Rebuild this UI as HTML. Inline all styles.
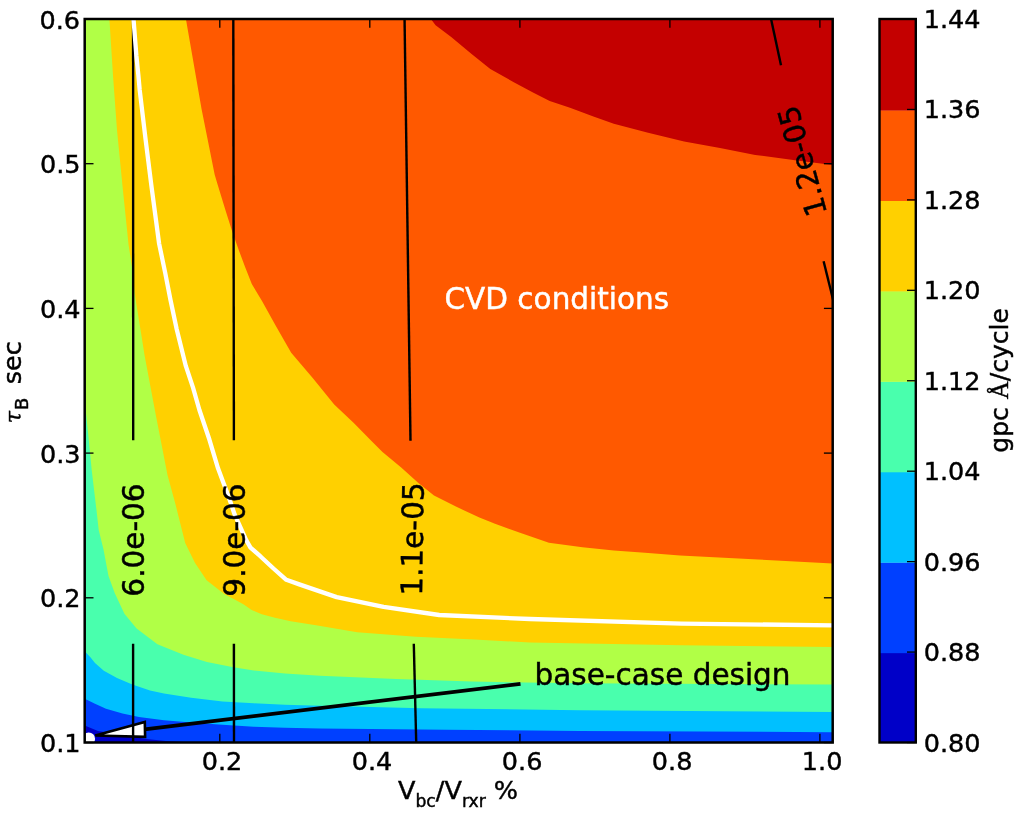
<!DOCTYPE html><html><head><meta charset="utf-8"><title>gpc contour</title><style>html,body{margin:0;padding:0;background:#fff;}svg{display:block;}</style></head><body>
<svg width="1024" height="819" viewBox="0 0 1024 819" font-family="'DejaVu Sans','Liberation Sans',sans-serif">
<rect x="0" y="0" width="1024" height="819" fill="#fff"/>
<defs><clipPath id="ax"><rect x="84.7" y="19.0" width="748.0" height="723.5"/></clipPath></defs>
<g clip-path="url(#ax)">
<rect x="84.7" y="19.0" width="748.0" height="723.5" fill="#0000c8"/>
<polygon fill="#0040ff" points="79.7,725.6 84.7,725.6 98.0,730.9 120.0,734.6 146.1,739.1 166.0,740.9 183.6,742.0 195.0,743.0 837.7,747.5 837.7,14.0 79.7,14.0"/>
<polygon fill="#00c0ff" points="79.7,698.8 84.7,698.8 95.0,703.7 106.0,708.7 122.5,713.6 139.0,716.9 164.0,720.3 191.2,722.6 222.5,724.8 253.8,726.7 285.0,727.8 320.0,728.6 447.0,729.8 580.0,730.9 832.7,732.2 837.7,732.2 837.7,14.0 79.7,14.0"/>
<polygon fill="#49ffad" points="79.7,651.3 84.7,651.3 90.6,657.6 95.0,663.1 103.8,670.8 117.0,677.9 132.3,684.5 150.0,690.5 164.0,693.6 191.2,697.8 222.5,701.4 253.8,703.3 285.0,704.8 320.0,705.7 421.5,708.2 580.0,710.3 832.7,711.9 837.7,711.9 837.7,14.0 79.7,14.0"/>
<polygon fill="#b1ff46" points="79.7,406.0 84.7,406.0 85.6,409.5 88.8,440.0 91.7,470.0 94.3,492.0 96.5,510.3 98.7,530.0 103.5,549.4 108.5,575.9 114.7,593.0 124.4,613.7 136.6,628.4 157.4,644.2 183.4,654.8 206.9,661.9 233.4,667.3 253.8,670.5 285.0,673.6 320.0,675.7 396.2,679.0 472.3,681.6 580.0,683.3 832.7,684.5 837.7,684.5 837.7,14.0 79.7,14.0"/>
<polygon fill="#ffd000" points="109.4,14.0 109.4,19.0 113.1,77.0 117.0,130.0 122.9,190.0 128.6,245.0 133.1,274.3 134.6,293.3 141.0,332.8 144.5,355.0 155.5,413.6 167.5,475.0 175.4,504.0 185.2,543.1 194.9,562.7 206.6,580.2 224.2,593.9 236.0,600.2 243.8,604.5 251.6,609.9 261.8,614.2 275.0,617.7 290.7,621.2 316.0,625.2 357.2,632.3 415.8,636.7 474.4,639.6 530.0,642.5 681.4,645.3 832.7,647.1 837.7,647.1 837.7,14.0"/>
<polygon fill="#ff5900" points="185.9,14.0 185.9,19.0 193.7,63.8 201.5,108.7 209.3,147.7 214.7,174.8 217.6,184.5 225.4,209.9 232.2,231.4 239.1,250.9 244.9,266.6 251.8,284.1 262.0,301.0 275.6,325.4 291.2,352.7 312.7,378.1 334.2,404.5 353.8,423.0 370.0,439.4 382.5,451.9 401.2,467.5 418.4,483.1 434.0,495.6 455.9,506.6 479.4,517.5 495.0,523.8 520.0,532.8 548.9,542.7 582.5,547.3 613.8,550.5 645.0,552.8 680.0,555.6 758.1,559.5 832.7,563.5 837.7,563.5 837.7,14.0"/>
<polygon fill="#c40000" points="430.9,14.0 430.9,19.0 435.6,25.2 451.2,36.9 471.6,54.1 490.3,68.9 513.8,82.2 532.5,92.3 549.7,100.9 570.0,107.8 593.4,116.4 613.8,123.8 648.1,132.8 684.1,141.4 720.0,148.1 755.2,154.9 795.0,160.2 832.7,165.0 837.7,165.0 837.7,14.0"/>
<circle cx="88.7" cy="738.8" r="6.4" fill="#fff"/>
<line x1="144.5" y1="729.4" x2="520.5" y2="683.9" stroke="#000" stroke-width="3.8"/>
<polygon points="95.3,735.5 144.8,722.0 145.1,736.8" fill="#fff" stroke="#000" stroke-width="2.6" stroke-linejoin="miter"/>
<g stroke="#000" stroke-width="2.4" fill="none">
<polyline points="133.1,15.0 133.2,440.3"/>
<polyline points="133.1,643.8 133.1,746.0"/>
<polyline points="233.3,15.0 233.9,440.3"/>
<polyline points="233.9,643.8 234.0,746.0"/>
<polyline points="404.5,15.0 410.5,440.8"/>
<polyline points="413.8,643.8 416.3,746.0"/>
<polyline points="770.2,15.0 781.0,65.3"/>
<polyline points="823.6,261.3 834.4,305.0"/>
</g>
<polyline fill="none" stroke="#fff" stroke-width="4.3" stroke-linejoin="round" points="133.4,10.0 133.5,19.0 136.4,56.0 138.4,75.6 139.7,90.0 145.5,138.8 151.3,185.0 159.1,243.6 165.2,272.9 170.5,300.0 176.7,329.3 185.8,365.9 193.1,387.9 199.4,410.0 209.3,439.3 218.1,468.6 229.0,497.8 234.7,514.7 240.8,528.1 246.3,540.3 250.5,547.6 260.3,556.2 273.5,568.5 286.3,579.8 300.0,584.6 336.7,597.1 383.6,606.8 439.2,615.0 530.0,619.0 681.4,623.6 832.7,625.3 840.0,625.4"/>
</g>
<g font-size="29.5" fill="#000" stroke="#000" stroke-width="0.45">
<text transform="translate(144.4,540) rotate(-90)" text-anchor="middle">6.0e-06</text>
<text transform="translate(244.9,540) rotate(-90)" text-anchor="middle">9.0e-06</text>
<text transform="translate(422.8,539.2) rotate(-89.1)" text-anchor="middle">1.1e-05</text>
<text transform="translate(812.3,158.3) rotate(-105.4)" text-anchor="middle">1.2e-05</text>
</g>
<text x="444.5" y="308.5" font-size="29.5" fill="#fff" stroke="#fff" stroke-width="0.45">CVD conditions</text>
<text x="534.5" y="685.0" font-size="29.5" fill="#000" stroke="#000" stroke-width="0.45">base-case design</text>
<rect x="84.7" y="19.0" width="748.0" height="723.5" fill="none" stroke="#000" stroke-width="2.5"/>
<g stroke="#000" stroke-width="1.3">
<line x1="219.8" y1="742.5" x2="219.8" y2="733.7"/>
<line x1="219.8" y1="19.0" x2="219.8" y2="27.8"/>
<line x1="369.8" y1="742.5" x2="369.8" y2="733.7"/>
<line x1="369.8" y1="19.0" x2="369.8" y2="27.8"/>
<line x1="519.9" y1="742.5" x2="519.9" y2="733.7"/>
<line x1="519.9" y1="19.0" x2="519.9" y2="27.8"/>
<line x1="669.9" y1="742.5" x2="669.9" y2="733.7"/>
<line x1="669.9" y1="19.0" x2="669.9" y2="27.8"/>
<line x1="819.9" y1="742.5" x2="819.9" y2="733.7"/>
<line x1="819.9" y1="19.0" x2="819.9" y2="27.8"/>
<line x1="84.7" y1="742.5" x2="93.5" y2="742.5"/>
<line x1="832.7" y1="742.5" x2="823.9" y2="742.5"/>
<line x1="84.7" y1="597.8" x2="93.5" y2="597.8"/>
<line x1="832.7" y1="597.8" x2="823.9" y2="597.8"/>
<line x1="84.7" y1="453.1" x2="93.5" y2="453.1"/>
<line x1="832.7" y1="453.1" x2="823.9" y2="453.1"/>
<line x1="84.7" y1="308.4" x2="93.5" y2="308.4"/>
<line x1="832.7" y1="308.4" x2="823.9" y2="308.4"/>
<line x1="84.7" y1="163.7" x2="93.5" y2="163.7"/>
<line x1="832.7" y1="163.7" x2="823.9" y2="163.7"/>
<line x1="84.7" y1="19.0" x2="93.5" y2="19.0"/>
<line x1="832.7" y1="19.0" x2="823.9" y2="19.0"/>
</g>
<g font-size="25.5" fill="#000" stroke="#000" stroke-width="0.45">
<text x="222.0" y="769.8" text-anchor="middle">0.2</text>
<text x="372.0" y="769.8" text-anchor="middle">0.4</text>
<text x="522.1" y="769.8" text-anchor="middle">0.6</text>
<text x="672.1" y="769.8" text-anchor="middle">0.8</text>
<text x="822.1" y="769.8" text-anchor="middle">1.0</text>
<text x="80.6" y="752.1" text-anchor="end">0.1</text>
<text x="80.6" y="607.4" text-anchor="end">0.2</text>
<text x="80.6" y="462.7" text-anchor="end">0.3</text>
<text x="80.6" y="318.0" text-anchor="end">0.4</text>
<text x="80.6" y="173.3" text-anchor="end">0.5</text>
<text x="80.0" y="28.6" text-anchor="end">0.6</text>
</g>
<text x="398" y="799" font-size="25.5" fill="#000" stroke="#000" stroke-width="0.45">V<tspan font-size="17.2" dy="8.2">bc</tspan><tspan dy="-8.2">/V</tspan><tspan font-size="17.2" dy="8.2">rxr</tspan><tspan dy="-8.2"> %</tspan></text>
<g font-size="25.5" fill="#000" stroke="#000" stroke-width="0.45"><text transform="translate(20.6,423.2) rotate(-90)" font-size="22" stroke="#000" stroke-width="0.4" font-family="'DejaVu Serif',serif" font-style="italic">τ</text><text transform="translate(28,410.0) rotate(-90)" font-size="17.8">B</text><text transform="translate(21,384.3) rotate(-90)">sec</text></g>
<rect x="879.5" y="652.86" width="36.3" height="89.94" fill="#0000c8"/>
<rect x="879.5" y="562.42" width="36.3" height="90.74" fill="#0040ff"/>
<rect x="879.5" y="471.99" width="36.3" height="90.74" fill="#00c0ff"/>
<rect x="879.5" y="381.55" width="36.3" height="90.74" fill="#49ffad"/>
<rect x="879.5" y="291.11" width="36.3" height="90.74" fill="#b1ff46"/>
<rect x="879.5" y="200.68" width="36.3" height="90.74" fill="#ffd000"/>
<rect x="879.5" y="110.24" width="36.3" height="90.74" fill="#ff5900"/>
<rect x="879.5" y="19.00" width="36.3" height="91.54" fill="#c40000"/>
<rect x="879.5" y="19.0" width="36.3" height="723.5" fill="none" stroke="#000" stroke-width="2.4"/>
<g stroke="#000" stroke-width="1.3">
<line x1="915.8" y1="742.50" x2="907.0" y2="742.50"/>
<line x1="915.8" y1="652.06" x2="907.0" y2="652.06"/>
<line x1="915.8" y1="561.62" x2="907.0" y2="561.62"/>
<line x1="915.8" y1="471.19" x2="907.0" y2="471.19"/>
<line x1="915.8" y1="380.75" x2="907.0" y2="380.75"/>
<line x1="915.8" y1="290.31" x2="907.0" y2="290.31"/>
<line x1="915.8" y1="199.88" x2="907.0" y2="199.88"/>
<line x1="915.8" y1="109.44" x2="907.0" y2="109.44"/>
<line x1="915.8" y1="19.00" x2="907.0" y2="19.00"/>
</g>
<g font-size="25.5" fill="#000" stroke="#000" stroke-width="0.45">
<text x="923.7" y="751.5">0.80</text>
<text x="923.7" y="661.1">0.88</text>
<text x="923.7" y="570.6">0.96</text>
<text x="923.7" y="480.2">1.04</text>
<text x="923.7" y="389.8">1.12</text>
<text x="923.7" y="299.3">1.20</text>
<text x="923.7" y="208.9">1.28</text>
<text x="923.7" y="118.4">1.36</text>
<text x="923.7" y="28.0">1.44</text>
</g>
<text transform="translate(1008.1,380.4) rotate(-90)" text-anchor="middle" font-size="25" fill="#000" stroke="#000" stroke-width="0.45">gpc <tspan font-family="'Liberation Serif',serif">Å</tspan>/cycle</text>
</svg></body></html>
